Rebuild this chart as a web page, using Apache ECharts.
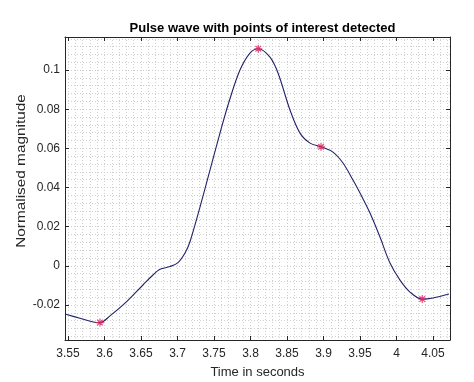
<!DOCTYPE html>
<html>
<head>
<meta charset="utf-8">
<script src="https://cdn.jsdelivr.net/npm/echarts@6/dist/echarts.min.js"></script>
<style>html,body{margin:0;padding:0;background:#fff}#c{width:474px;height:382px}</style>
</head>
<body>
<div id="c"></div>
<script>
// ---- data ----
const timeSeconds = [3.5459, 3.5664, 3.5847, 3.5938, 3.6075, 3.6304, 3.6527, 3.6664, 3.676, 3.6897,
  3.7007, 3.7103, 3.7171, 3.7308, 3.7445, 3.7582, 3.7705, 3.7856, 3.7993, 3.8107,
  3.8267, 3.8377, 3.8541, 3.8678, 3.8816, 3.8966, 3.913, 3.9267, 3.9404, 3.95,
  3.9637, 3.9774, 3.9911, 4.0048, 4.0185, 4.0353, 4.05, 4.0719];
const magnitude = [-0.0246, -0.0268, -0.0287, -0.029, -0.0256, -0.0183, -0.0098, -0.0047, -0.0018, -0.0004,
  0.0016, 0.0065, 0.0123, 0.03, 0.0489, 0.0678, 0.0837, 0.1, 0.1087, 0.1109,
  0.1066, 0.0985, 0.0796, 0.0678, 0.0627, 0.0608, 0.0581, 0.0525, 0.0438, 0.0372,
  0.027, 0.0147, 0.0014, -0.0073, -0.0134, -0.017, -0.0164, -0.0144];
const poiTime = [3.5938, 3.8107, 3.8966, 4.0353];
const poiMagnitude = [-0.029, 0.1109, 0.0608, -0.017];

const xTicks = [3.55, 3.6, 3.65, 3.7, 3.75, 3.8, 3.85, 3.9, 3.95, 4, 4.05];
const xTickLabels = ['3.55', '3.6', '3.65', '3.7', '3.75', '3.8', '3.85', '3.9', '3.95', '4', '4.05'];
const yTicks = [-0.02, 0, 0.02, 0.04, 0.06, 0.08, 0.1];
const yTickLabels = ['-0.02', '0', '0.02', '0.04', '0.06', '0.08', '0.1'];

const titleText = 'Pulse wave with points of interest detected';
const xLabelText = 'Time in seconds';
const yLabelText = 'Normalised magnitude';

const X_MIN = 3.5459, X_MAX = 4.0733;
const Y_MIN = -0.0379, Y_MAX = 0.1169;

// minor grid positions (0.01 in x, 0.004 in y)
const xMinor = [];
for (let k = 355; k <= 407; k++) xMinor.push(k / 100);
const yMinor = [];
for (let k = -9; k <= 29; k++) yMinor.push(Math.round(k * 4) / 1000);

const FONT = 'Liberation Sans, Arial, Helvetica, sans-serif';
const AX = '#262626';
const GRID_C = '#cfcfcf';

function lab(ticks, labels) {
  return function (v) {
    for (let i = 0; i < ticks.length; i++) if (Math.abs(ticks[i] - v) < 1e-9) return labels[i];
    return '';
  };
}

const lineData = timeSeconds.map((t, i) => [t, magnitude[i]]);
const poiData = poiTime.map((t, i) => [t, poiMagnitude[i]]);

const chart = echarts.init(document.getElementById('c'), null, { renderer: 'canvas' });
chart.setOption({
  backgroundColor: '#ffffff',
  animation: false,
  title: {
    text: titleText,
    left: 257.5, top: 17, textAlign: 'center',
    textStyle: { fontSize: 13, fontWeight: 'bold', color: '#000', fontFamily: FONT }
  },
  graphic: [
    {
      type: 'text', x: 21, y: 171, rotation: Math.PI / 2, scaleX: 1.18,
      style: { text: yLabelText, font: '13px ' + FONT, fill: AX, align: 'center', verticalAlign: 'middle' }
    }
  ],
  grid: { left: 65, right: 24, top: 37, bottom: 42, containLabel: false, outerBoundsMode: 'none' },
  xAxis: [
    {
      type: 'value', position: 'bottom', min: X_MIN, max: X_MAX,
      name: xLabelText, nameLocation: 'middle', nameGap: 26,
      nameTextStyle: { fontSize: 13, color: AX, fontFamily: FONT },
      axisLine: { show: true, onZero: false, lineStyle: { color: AX, width: 1 } },
      axisTick: { show: true, inside: true, length: 4, customValues: xTicks, lineStyle: { color: AX } },
      axisLabel: { show: true, customValues: xTicks, formatter: lab(xTicks, xTickLabels), color: AX, fontSize: 12, fontFamily: FONT, margin: 8 },
      splitLine: { show: true, lineStyle: { type: [1, 2], color: GRID_C, width: 1 } }
    },
    {
      type: 'value', position: 'top', min: X_MIN, max: X_MAX,
      axisLine: { show: true, onZero: false, lineStyle: { color: AX, width: 1 } },
      axisTick: { show: true, inside: true, length: 4, customValues: xTicks, lineStyle: { color: AX } },
      axisLabel: { show: false },
      splitLine: { show: false }
    },
    {
      type: 'value', position: 'bottom', min: X_MIN, max: X_MAX,
      axisLine: { show: false },
      axisTick: { show: false, customValues: xMinor },
      axisLabel: { show: false },
      splitLine: { show: true, lineStyle: { type: [1, 2], color: GRID_C, width: 1 } }
    }
  ],
  yAxis: [
    {
      type: 'value', position: 'left', min: Y_MIN, max: Y_MAX,
      axisLine: { show: true, onZero: false, lineStyle: { color: AX, width: 1 } },
      axisTick: { show: true, inside: true, length: 4, customValues: yTicks, lineStyle: { color: AX } },
      axisLabel: { show: true, customValues: yTicks, formatter: lab(yTicks, yTickLabels), color: AX, fontSize: 12, fontFamily: FONT, margin: 5 },
      splitLine: { show: true, lineStyle: { type: [1, 2], color: GRID_C, width: 1 } }
    },
    {
      type: 'value', position: 'right', min: Y_MIN, max: Y_MAX,
      axisLine: { show: true, onZero: false, lineStyle: { color: AX, width: 1 } },
      axisTick: { show: true, inside: true, length: 4, customValues: yTicks, lineStyle: { color: AX } },
      axisLabel: { show: false },
      splitLine: { show: false }
    },
    {
      type: 'value', position: 'left', min: Y_MIN, max: Y_MAX,
      axisLine: { show: false },
      axisTick: { show: false, customValues: yMinor },
      axisLabel: { show: false },
      splitLine: { show: true, lineStyle: { type: [1, 2], color: GRID_C, width: 1 } }
    }
  ],
  series: [
    {
      type: 'line', name: 'Pulse wave', xAxisIndex: 0, yAxisIndex: 0,
      data: lineData, smooth: 0.35, showSymbol: false, symbol: 'none',
      lineStyle: { color: '#22226b', width: 1.1 }, z: 3
    },
    {
      type: 'scatter', name: 'Points of interest', xAxisIndex: 0, yAxisIndex: 0,
      data: poiData,
      symbol: 'path://M0,5L10,5M5,0L5,10M1.5,1.5L8.5,8.5M8.5,1.5L1.5,8.5',
      symbolSize: 8,
      itemStyle: { color: 'none', borderColor: '#e0245e', borderWidth: 1.2 },
      z: 4
    }
  ]
});
</script>
</body>
</html>
